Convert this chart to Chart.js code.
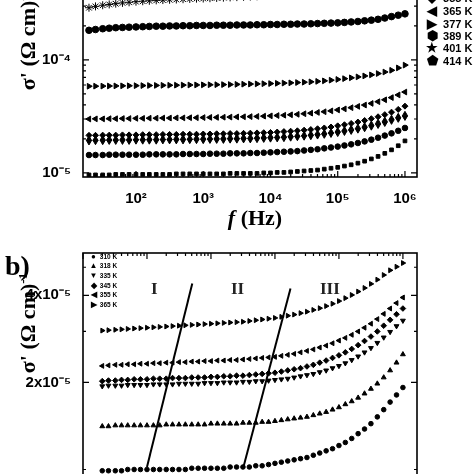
<!DOCTYPE html>
<html><head><meta charset="utf-8">
<script src="https://cdn.jsdelivr.net/npm/chart.js@4.4.0/dist/chart.umd.min.js"></script>
<style>
html,body{margin:0;padding:0;width:474px;height:474px;overflow:hidden;background:#fff;position:relative;font-family:"Liberation Sans",Arial,sans-serif}
canvas{position:absolute;left:0}
.t{position:absolute;white-space:nowrap;color:#000}
.lg{font-weight:bold;font-size:11px}
.lg2{font-weight:bold;font-size:6.5px}
.serif{font-family:"Liberation Serif","Times New Roman",serif;font-weight:bold}
</style></head><body>
<canvas id="c1" width="474" height="265" style="top:-30px;width:474px;height:265px"></canvas>
<canvas id="c2" width="474" height="260" style="top:240px;width:474px;height:260px"></canvas>
<div class="t serif" style="left:28px;top:40px;font-size:22px;transform:translate(-50%,-50%) rotate(-90deg)">σ' (Ω cm)<sup style="font-size:13px">-1</sup></div>
<div class="t serif" style="left:255px;top:218px;font-size:22px;transform:translate(-50%,-50%)"><i>f</i> (Hz)</div>
<div class="t serif" style="left:28px;top:323px;font-size:22px;transform:translate(-50%,-50%) rotate(-90deg)">σ' (Ω cm)<sup style="font-size:13px">-1</sup></div>
<div class="t serif" style="left:5px;top:250px;font-size:28px">b)</div>
<div class="t serif" style="left:151px;top:279px;font-size:17px;color:#222">I</div>
<div class="t serif" style="left:231px;top:279px;font-size:17px;color:#222">II</div>
<div class="t serif" style="left:320px;top:279px;font-size:17px;color:#222">III</div>
<div id="leg1"></div><div id="leg2"></div>
<script>
const unit = 1e-5;
const freqs = [20,25,32,40,50,63,79,
 100,126,158,200,251,316,398,501,631,794,
 1000,1259,1585,1995,2512,3162,3981,5012,6310,7943,
 10000,12589,15849,19953,25119,31623,39811,50119,63096,79433,
 100000,125893,158489,199526,251189,316228,398107,501187,630957,794328,
 1000000];
// Panel a (top), values in units of 1e-5 (Ω cm)^-1
const a310=[0.96,0.96,0.96,0.96,0.97,0.97,0.97, 0.97,0.97,0.97,0.97,0.97,0.97,0.98,0.98,0.98,0.98, 0.98,0.98,0.98,0.98,0.99,0.99,0.99,0.99,0.99,1.00, 1.00,1.01,1.01,1.02,1.03,1.04,1.05,1.06,1.08,1.10, 1.12,1.15,1.18,1.22,1.27,1.33,1.40,1.49,1.60,1.74, 1.92];
const a318=[1.44,1.44,1.44,1.45,1.45,1.45,1.45, 1.45,1.45,1.46,1.46,1.46,1.46,1.46,1.47,1.47,1.47, 1.47,1.48,1.48,1.48,1.49,1.49,1.49,1.50,1.50,1.51, 1.52,1.53,1.54,1.55,1.56,1.58,1.60,1.62,1.65,1.68, 1.71,1.75,1.79,1.84,1.90,1.97,2.05,2.14,2.24,2.36, 2.50];
const a335=[1.88,1.89,1.89,1.90,1.90,1.90,1.90, 1.91,1.91,1.91,1.91,1.92,1.92,1.92,1.92,1.93,1.93, 1.93,1.94,1.94,1.94,1.95,1.95,1.96,1.96,1.97,1.98, 1.99,2.00,2.01,2.03,2.05,2.07,2.09,2.12,2.15,2.19, 2.23,2.28,2.33,2.39,2.46,2.54,2.63,2.74,2.86,2.98, 3.10];
const a345=[2.00,2.00,2.01,2.01,2.01,2.02,2.02, 2.02,2.02,2.03,2.03,2.03,2.03,2.04,2.04,2.04,2.05, 2.05,2.05,2.06,2.06,2.07,2.07,2.08,2.08,2.09,2.10, 2.11,2.12,2.13,2.15,2.17,2.19,2.22,2.25,2.28,2.32, 2.37,2.42,2.48,2.54,2.62,2.71,2.81,2.93,3.05,3.17, 3.30];
const a355=[2.15,2.15,2.16,2.16,2.16,2.17,2.17, 2.17,2.18,2.18,2.18,2.19,2.19,2.19,2.20,2.20,2.20, 2.21,2.21,2.22,2.22,2.23,2.23,2.24,2.25,2.26,2.27, 2.28,2.30,2.32,2.34,2.36,2.39,2.42,2.46,2.50,2.55, 2.61,2.67,2.74,2.82,2.91,3.02,3.14,3.28,3.45,3.65, 3.90];
const a365=[3.00,3.01,3.01,3.02,3.02,3.03,3.03, 3.04,3.04,3.05,3.05,3.06,3.06,3.07,3.07,3.08,3.08, 3.09,3.10,3.10,3.11,3.12,3.13,3.14,3.15,3.16,3.18, 3.20,3.22,3.24,3.27,3.30,3.34,3.38,3.43,3.48,3.54, 3.61,3.69,3.78,3.88,3.99,4.12,4.27,4.44,4.64,4.90, 5.20];
const a377=[5.85,5.86,5.87,5.88,5.89,5.90,5.91, 5.92,5.93,5.94,5.95,5.96,5.97,5.98,5.99,6.00,6.01, 6.02,6.03,6.04,6.05,6.06,6.08,6.10,6.12,6.14,6.16, 6.18,6.21,6.24,6.27,6.31,6.35,6.40,6.46,6.53,6.62, 6.72,6.83,6.95,7.08,7.22,7.38,7.58,7.82,8.10,8.50, 9.00];
const a389=[18.3,18.6,18.9,19.1,19.3,19.4,19.5, 19.6,19.7,19.8,19.9,19.9,20.0,20.0,20.1,20.1,20.2, 20.2,20.2,20.3,20.3,20.3,20.4,20.4,20.4,20.5,20.5, 20.6,20.6,20.7,20.7,20.8,20.8,20.9,21.0,21.1,21.2, 21.3,21.5,21.7,21.9,22.2,22.5,22.9,23.5,24.2,24.9, 25.6];
const a401=[29.0,29.8,30.5,31.0,31.5,32.0,32.4, 32.8,33.1,33.4,33.7,33.9,34.1,34.3,34.5,34.7,34.9, 35.0,35.2,35.4,35.6,35.8,36.0,36.2,36.4,36.6,36.9, 37.2,37.5,37.8,38.2,38.6,39.0,39.5,40.0,40.6,41.2, 42,43,44,45,46.5,48,50,52,54,57, 60];
const a414=[70,71,72,72.5,73,73.5,74, 74.5,75,75.5,76,76.5,77,77.5,78,78.5,79, 79.5,80,80.5,81,81.5,82,82.5,83,83.5,84, 85,86,87,88,89,90,91,92,93,94, 95,96,97,98,99,100,101,102,103,104, 105];
// Panel b (bottom)
const b310=[0.99,0.99,0.99,0.99,1.00,1.00,1.00, 1.00,1.00,1.00,1.00,1.00,1.00,1.00,1.01,1.01,1.01, 1.01,1.01,1.01,1.02,1.02,1.02,1.02,1.03,1.03,1.04, 1.05,1.06,1.07,1.08,1.09,1.10,1.12,1.14,1.16,1.18, 1.21,1.24,1.28,1.33,1.38,1.44,1.52,1.61,1.71,1.81, 1.92];
const b318=[1.41,1.41,1.42,1.42,1.42,1.42,1.42, 1.42,1.42,1.42,1.43,1.43,1.43,1.43,1.43,1.43,1.43, 1.44,1.44,1.44,1.44,1.44,1.45,1.45,1.45,1.46,1.46, 1.47,1.48,1.49,1.50,1.51,1.52,1.54,1.56,1.58,1.61, 1.64,1.68,1.72,1.77,1.83,1.90,1.98,2.08,2.20,2.34, 2.50];
const b335=[1.94,1.95,1.95,1.95,1.96,1.96,1.96, 1.96,1.97,1.97,1.97,1.97,1.98,1.98,1.98,1.98,1.99, 1.99,1.99,2.00,2.00,2.00,2.01,2.01,2.02,2.02,2.03, 2.04,2.05,2.06,2.08,2.10,2.12,2.14,2.17,2.20,2.24, 2.28,2.33,2.39,2.46,2.54,2.63,2.74,2.86,2.99,3.13, 3.27];
const b345=[2.02,2.03,2.03,2.04,2.04,2.05,2.05, 2.05,2.06,2.06,2.06,2.07,2.07,2.07,2.08,2.08,2.08, 2.09,2.09,2.10,2.10,2.11,2.11,2.12,2.13,2.14,2.15, 2.16,2.18,2.20,2.22,2.24,2.27,2.30,2.34,2.38,2.43, 2.48,2.54,2.61,2.69,2.78,2.88,3.00,3.14,3.29,3.44, 3.60];
const b355=[2.28,2.29,2.30,2.30,2.31,2.31,2.32, 2.32,2.33,2.33,2.34,2.34,2.35,2.35,2.36,2.36,2.37, 2.37,2.38,2.38,2.39,2.39,2.40,2.41,2.42,2.43,2.44, 2.45,2.47,2.49,2.51,2.54,2.57,2.60,2.64,2.68,2.73, 2.79,2.85,2.92,3.00,3.09,3.19,3.31,3.45,3.60,3.76, 3.93];
const b365=[3.02,3.03,3.04,3.05,3.06,3.07,3.08, 3.09,3.10,3.11,3.12,3.13,3.14,3.15,3.16,3.17,3.18, 3.19,3.20,3.21,3.22,3.23,3.24,3.26,3.28,3.30,3.32, 3.34,3.37,3.40,3.43,3.47,3.51,3.56,3.61,3.67,3.74, 3.82,3.91,4.01,4.12,4.24,4.38,4.53,4.70,4.88,5.02, 5.17];
// Region boundary lines (panel b): [f, sigma/unit]
const lineI=[[100,1.02],[510,4.39]];
const lineII=[[3220,1.02],[17500,4.22]];
const topTicksY=[1e-5,1e-4];
const topTicksX=[1e2,1e3,1e4,1e5,1e6];
const botTicksY=[2e-5,4e-5];

const sup={'-':'⁻','0':'⁰','1':'¹','2':'²','3':'³','4':'⁴','5':'⁵','6':'⁶','7':'⁷','8':'⁸','9':'⁹'};
const ss=s=>String(s).split('').map(c=>sup[c]||c).join('');
const pw=v=>'10'+ss(Math.round(Math.log10(v)));
const mk=(vals)=>freqs.map((f,i)=>({x:f,y:vals[i]*unit}));
function ds(vals,style,rot,r){return {data:mk(vals),showLine:false,pointStyle:style,rotation:rot||0,pointRadius:r,backgroundColor:'#000',borderColor:'#000',borderWidth:1};}

function innerTicks(yMinor){return {id:'it',afterDraw(ch){
  const c=ch.ctx,a=ch.chartArea,xs=ch.scales.x,ys=ch.scales.y;
  c.save();c.strokeStyle='#000';c.lineWidth=1.2;
  const dx=(v,L)=>{const p=xs.getPixelForValue(v);if(p<a.left||p>a.right)return;c.beginPath();c.moveTo(p,a.bottom);c.lineTo(p,a.bottom-L);c.moveTo(p,a.top);c.lineTo(p,a.top+L);c.stroke();};
  const dy=(v,L)=>{const p=ys.getPixelForValue(v);if(p<a.top||p>a.bottom)return;c.beginPath();c.moveTo(a.left,p);c.lineTo(a.left+L,p);c.moveTo(a.right,p);c.lineTo(a.right-L,p);c.stroke();};
  for(let e=1;e<=6;e++)for(let m=1;m<10;m++)dx(m*10**e,m==1?6:3);
  yMinor.forEach(([v,L])=>dy(v,L));
  c.lineWidth=1.6;c.strokeRect(a.left,a.top,a.right-a.left,a.bottom-a.top);c.restore();}};}

const font={family:'"Liberation Sans",Arial',size:15,weight:'bold'};
function scales(xmin,xmax,ymin,ymax,yt,xt,xh){return {
 x:{type:'logarithmic',min:xmin,max:xmax,grid:{display:false},border:{display:false},
   afterBuildTicks:s=>{s.ticks=xt.map(v=>({value:v}));},afterFit:s=>{s.height=xh;},
   ticks:{color:'#000',font,padding:5,maxRotation:0,callback:v=>pw(v)}},
 y:{type:'logarithmic',min:ymin,max:ymax,grid:{display:false},border:{display:false},
   afterBuildTicks:s=>{s.ticks=yt.map(v=>({value:v}));},afterFit:s=>{s.width=83;},
   ticks:{color:'#000',font,padding:4,callback:v=>{const e=Math.floor(Math.log10(v)+1e-9);const m=Math.round(v/10**e);return (m==1?'':m+'x')+'10'+ss(e);}}}};}
const common={responsive:false,animation:false,events:[],plugins:{legend:{display:false},tooltip:{enabled:false}}};

const minorTop=[];for(let e=-6;e<=-3;e++)for(let m=1;m<10;m++)minorTop.push([m*10**e,m==1?6:3]);
new Chart(document.getElementById('c1'),{type:'scatter',
 data:{datasets:[ds(a310,'rect',0,2.6),ds(a318,'circle',0,2.8),ds(a335,'triangle',180,3),ds(a345,'triangle',0,3),ds(a355,'rectRot',0,3),ds(a365,'triangle',-90,3.3),ds(a377,'triangle',90,3.3),ds(a389,'circle',0,3.3),ds(a401,'star',0,4),ds(a414,'circle',0,3)]},
 options:{...common,layout:{padding:{left:0,right:57,top:10,bottom:0}},scales:scales(16.3,1.51e6,9.2e-6,4.8e-4,topTicksY,topTicksX,58)},
 plugins:[innerTicks(minorTop)]});

const minorBot=[[1e-5,3],[2e-5,6],[3e-5,3],[4e-5,6],[5e-5,3]];
const lineDs=(pts)=>({type:'line',data:pts.map(p=>({x:p[0],y:p[1]*unit})),showLine:true,pointRadius:0,borderColor:'#000',borderWidth:2,fill:false});
new Chart(document.getElementById('c2'),{type:'scatter',
 data:{datasets:[ds(b310,'circle',0,2.3),ds(b318,'triangle',0,2.8),ds(b335,'triangle',180,2.8),ds(b345,'rectRot',0,2.8),ds(b355,'triangle',-90,2.8),ds(b365,'triangle',90,2.8),lineDs(lineI),lineDs(lineII)]},
 options:{...common,layout:{padding:{left:0,right:57,top:10,bottom:0}},scales:(()=>{const s=scales(10,1.66e6,8.7e-6,5.6e-5,botTicksY,[],10);s.x.ticks.display=false;return s;})()},
 plugins:[innerTicks(minorBot)]});

// legends
const leg1=[['◆','355 K',-3],['◀','365 K',10],['▶','377 K',23],['⬢','389 K',35],['★','401 K',47],['⬟','414 K',60]];
document.getElementById('leg1').innerHTML=leg1.map(r=>`<div class="t lg" style="left:424px;top:${r[2]-7}px"><span style="display:inline-block;width:16px;font-size:13px;text-align:center">${r[0]}</span> ${r[1]}</div>`).join('');
const leg2=[['●','310 K',256],['▲','318 K',265],['▼','335 K',275],['◆','345 K',285],['◀','355 K',294],['▶','365 K',304]];
document.getElementById('leg2').innerHTML=leg2.map(r=>`<div class="t lg2" style="left:89px;top:${r[2]-4}px"><span style="display:inline-block;width:9px;font-size:8px;text-align:center">${r[0]}</span> ${r[1]}</div>`).join('');
</script></body></html>
